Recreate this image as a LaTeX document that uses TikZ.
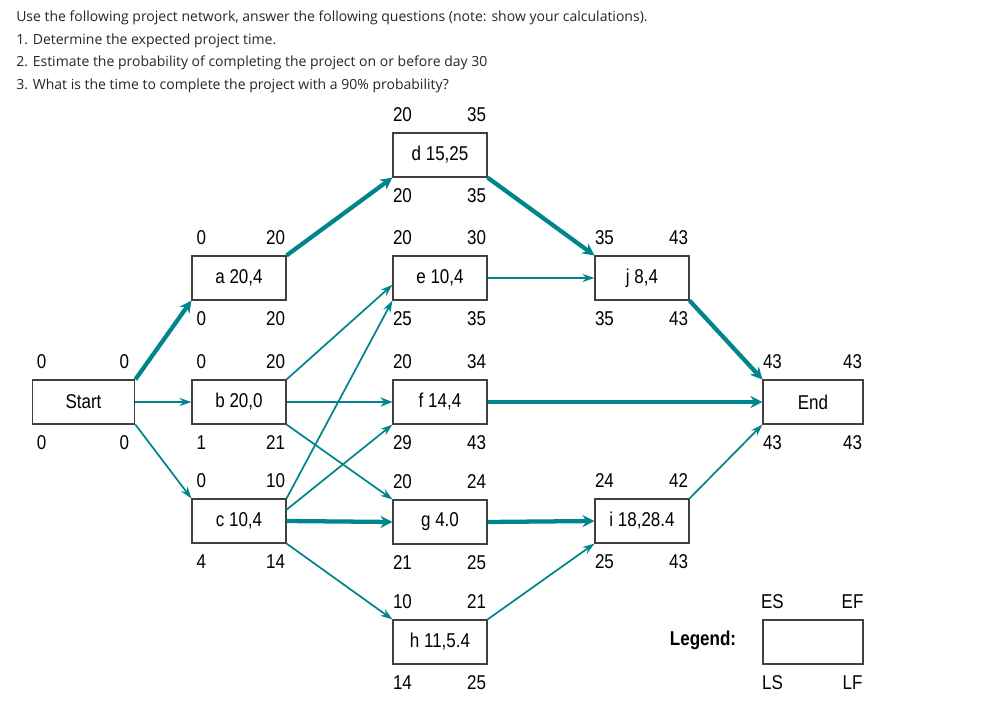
\documentclass[tikz,border=0pt]{standalone}
\usepackage{fontspec}
\setmainfont{Open Sans}
\newfontfamily\nf[FakeStretch=0.85]{Liberation Sans}
\usetikzlibrary{arrows.meta,calc}
\definecolor{teal1}{RGB}{0,133,140}
\tikzset{
  px/.style={x=0.75pt,y=-0.75pt},
  box/.style={draw=black!75,line width=0.8pt,minimum width=70.5pt,minimum height=33pt,inner sep=0pt,font=\nf\fontsize{15}{17}\selectfont},
  num/.style={font=\nf\fontsize{15}{17}\selectfont,inner sep=0pt},
  thin/.style={draw=teal1,line width=1.3pt,-{Stealth[length=9pt,width=6pt,inset=3pt]}},
  thick/.style={draw=teal1,line width=3.2pt,-{Stealth[length=9pt,width=9pt,inset=3pt]}},
  mid/.style={draw=teal1,line width=2.2pt,-{Stealth[length=9pt,width=7pt,inset=3pt]}},
  qtext/.style={anchor=west,inner sep=0pt,font=\fontsize{10.5}{12}\selectfont,text=black!85},
}
\newcommand{\labs}[5]{%
  \node[num] at ($(#1.north west)+(10,-18)$) {#2};
  \node[num] at ($(#1.north east)+(-11,-18)$) {#3};
  \node[num] at ($(#1.south west)+(10,18)$) {#4};
  \node[num] at ($(#1.south east)+(-11,18)$) {#5};}
\begin{document}
\begin{tikzpicture}[px]
\useasboundingbox (0,0) rectangle (997,703);
\node[qtext] (q0) at (16,18) {Use the following project network, answer the following questions (note: show your calculations).};
\node[qtext] (q1) at (16,41) {1. Determine the expected project time.};
\node[qtext] (q2) at (16,63) {2. Estimate the probability of completing the project on or before day 30};
\node[qtext] (q3) at (16,86) {3. What is the time to complete the project with a 90\% probability?};

\node[box,minimum width=77pt] (S) at (83.5,402) {Start};
\node[box] (a) at (239,278) {a 20,4};
\node[box] (b) at (239,402) {b 20,0};
\node[box] (c) at (239,521) {c 10,4};
\node[box] (d) at (440,155) {d 15,25};
\node[box] (e) at (440,278) {e 10,4};
\node[box] (f) at (440,402) {f 14,4};
\node[box] (g) at (440,522) {g 4.0};
\node[box] (h) at (440,642) {h 11,5.4};
\node[box] (j) at (642,278) {j 8,4};
\node[box] (i) at (642,521) {i 18,28.4};
\node[box,minimum width=75pt] (E) at (813,402) {End};
\node[box,minimum width=75pt] (L) at (813,642) {};
\node[font=\nf\bfseries\fontsize{15}{17}\selectfont,inner sep=0pt] (lg) at (703,640) {Legend:};

\labs{S}{0}{0}{0}{0}
\labs{a}{0}{20}{0}{20}
\labs{b}{0}{20}{1}{21}
\labs{c}{0}{10}{4}{14}
\labs{d}{20}{35}{20}{35}
\labs{e}{20}{30}{25}{35}
\labs{f}{20}{34}{29}{43}
\labs{g}{20}{24}{21}{25}
\labs{h}{10}{21}{14}{25}
\labs{j}{35}{43}{35}{43}
\labs{i}{24}{42}{25}{43}
\labs{E}{43}{43}{43}{43}
\labs{L}{ES}{EF}{LS}{LF}

\draw[thick] (S.north east) -- (a.south west);
\draw[thin] (S.east) -- (b.west);
\draw[thin] (S.south east) -- (c.north west);
\draw[thick] (a.north east) -- (d.south west);
\draw[thin] (b.north east) -- ($(e.west)!0.3!(e.south west)$);
\draw[mid] (b.east) -- (f.west);
\draw[thin] (b.south east) -- (g.north west);
\draw[thin] (c.north east) -- (e.south west);
\draw[thin] ($(c.east)!0.5!(c.north east)$) -- (f.south west);
\draw[thick] (c.east) -- (g.west);
\draw[thin] (c.south east) -- (h.north west);
\draw[thick] (d.south east) -- (j.north west);
\draw[thin] (e.east) -- (j.west);
\draw[thick] (f.east) -- (E.west);
\draw[thick] (g.east) -- (i.west);
\draw[thin] (h.north east) -- (i.south west);
\draw[thick] (j.south east) -- (E.north west);
\draw[thin] (i.north east) -- (E.south west);
\end{tikzpicture}
\end{document}
